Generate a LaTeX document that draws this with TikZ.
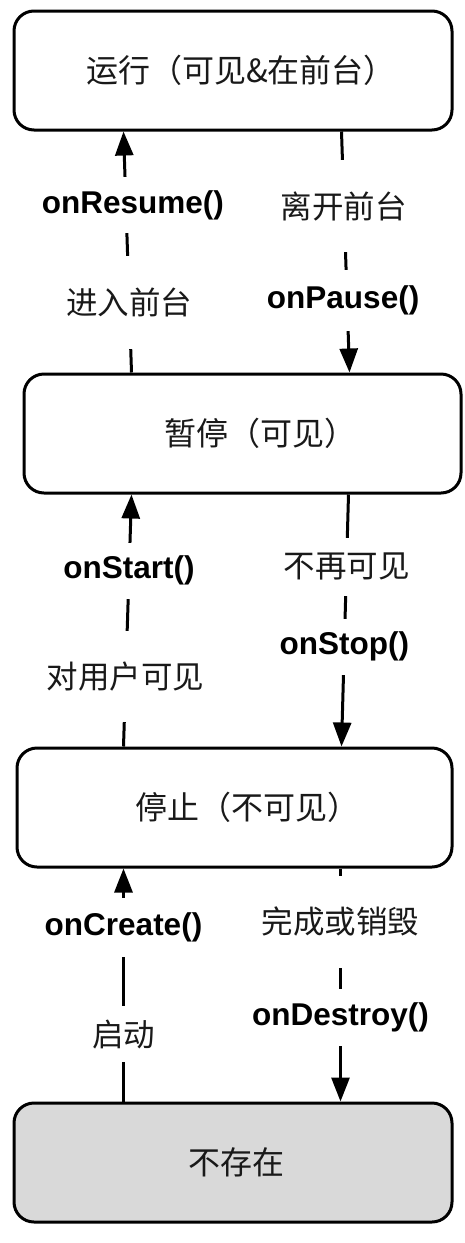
\documentclass[tikz,border=0pt]{standalone}
\usepackage{fontspec}
\setmainfont{Liberation Sans}
\newfontfamily\cjk{Noto Sans CJK SC}
\usetikzlibrary{arrows.meta}
\begin{document}
\begin{tikzpicture}[x=1pt,y=-1pt,
  state/.style={draw, line width=3pt, rounded corners=20pt, minimum width=438pt,
    minimum height=119pt, inner sep=0pt, font=\cjk\fontsize{32}{36}\selectfont, text=black!90},
  conn/.style={line width=3pt},
  arr/.style={conn,-{Triangle[length=24pt,width=18pt]}},
  fn/.style={fill=white, inner xsep=4pt, inner ysep=0pt, font=\bfseries\fontsize{31.5}{36}\selectfont},
  zh/.style={fill=white, inner xsep=4pt, inner ysep=0pt, font=\cjk\fontsize{31.5}{36}\selectfont, text=black!90},
]
\useasboundingbox[fill=white] (0,0) rectangle (464,1243);

\node[state] (run) at (233,70.5) {\hspace*{16pt}运行（可见\&在前台）};
\node[state, minimum width=437pt] (pause) at (242.5,433.5) {\hspace*{36pt}暂停（可见）};
\node[state, minimum width=435pt] (stop) at (234.5,807.5) {\hspace*{26pt}停止（不可见）};
\node[state, fill=gray!30] (gone) at (233,1162.5) {\hspace*{6pt}不存在};

% pause -> run
\draw[arr] ([xshift=109pt]pause.north west) --
  node[fn, minimum height=56pt, pos=0.693, xshift=7pt] {onResume()}
  node[zh, minimum height=93pt, pos=0.291] {进入前台}
  ([xshift=111pt]run.south west);
\draw[arr] ([xshift=329pt]run.south west) --
  node[zh, minimum height=92pt, pos=0.311] {离开前台}
  node[fn, minimum height=61pt, pos=0.701, xshift=-4pt] {onPause()}
  ([xshift=327pt]pause.north west);

% stop <-> pause
\draw[arr] ([xshift=108pt]stop.north west) --
  node[fn, minimum height=56pt, pos=0.698] {onStart()}
  node[zh, minimum height=91pt, pos=0.278] {对用户可见}
  ([xshift=109pt]pause.south west);
\draw[arr] ([xshift=326pt]pause.south west) --
  node[zh, minimum height=58pt, pos=0.286] {不再可见}
  node[fn, minimum height=56pt, pos=0.604] {onStop()}
  ([xshift=326pt]stop.north west);

% gone <-> stop
\draw[arr] ([xshift=111pt]gone.north west) --
  node[fn, minimum height=59pt, pos=0.746] {onCreate()}
  node[zh, minimum height=56pt, pos=0.288] {启动}
  ([xshift=108pt]stop.south west);
\draw[arr] ([xshift=325pt]stop.south west) --
  node[zh, minimum height=92pt, pos=0.229] {完成或销毁}
  node[fn, minimum height=57pt, pos=0.640] {onDestroy()}
  ([xshift=328pt]gone.north west);
\end{tikzpicture}
\end{document}
